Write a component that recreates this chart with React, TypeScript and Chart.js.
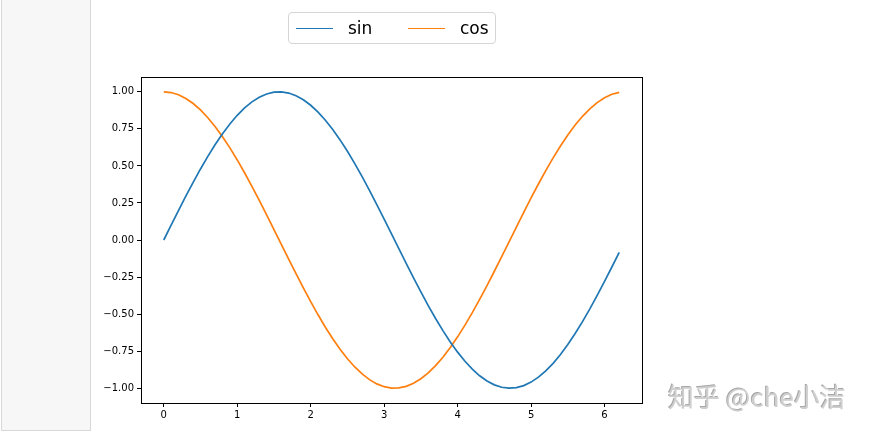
import React, { useEffect, useRef } from "react";
import { Chart, registerables } from "chart.js";

Chart.register(...registerables);

const xValues = [
  0.0, 0.1, 0.2, 0.3, 0.4, 0.5, 0.6, 0.7, 0.8, 0.9,
  1.0, 1.1, 1.2, 1.3, 1.4, 1.5, 1.6, 1.7, 1.8, 1.9,
  2.0, 2.1, 2.2, 2.3, 2.4, 2.5, 2.6, 2.7, 2.8, 2.9,
  3.0, 3.1, 3.2, 3.3, 3.4, 3.5, 3.6, 3.7, 3.8, 3.9,
  4.0, 4.1, 4.2, 4.3, 4.4, 4.5, 4.6, 4.7, 4.8, 4.9,
  5.0, 5.1, 5.2, 5.3, 5.4, 5.5, 5.6, 5.7, 5.8, 5.9,
  6.0, 6.1, 6.2,
];

const sinValues = [
  0.0, 0.0998, 0.1987, 0.2955, 0.3894, 0.4794, 0.5646, 0.6442, 0.7174, 0.7833,
  0.8415, 0.8912, 0.932, 0.9636, 0.9854, 0.9975, 0.9996, 0.9917, 0.9738, 0.9463,
  0.9093, 0.8632, 0.8085, 0.7457, 0.6755, 0.5985, 0.5155, 0.4274, 0.335, 0.2392,
  0.1411, 0.0416, -0.0584, -0.1577, -0.2555, -0.3508, -0.4425, -0.5298, -0.6119, -0.6878,
  -0.7568, -0.8183, -0.8716, -0.9162, -0.9516, -0.9775, -0.9937, -0.9999, -0.9962, -0.9825,
  -0.9589, -0.9258, -0.8835, -0.8323, -0.7728, -0.7055, -0.6313, -0.5507, -0.4646, -0.3739,
  -0.2794, -0.1822, -0.0831,
];

const cosValues = [
  1.0, 0.995, 0.9801, 0.9553, 0.9211, 0.8776, 0.8253, 0.7648, 0.6967, 0.6216,
  0.5403, 0.4536, 0.3624, 0.2675, 0.17, 0.0707, -0.0292, -0.1288, -0.2272, -0.3233,
  -0.4161, -0.5048, -0.5885, -0.6663, -0.7374, -0.8011, -0.8569, -0.9041, -0.9422, -0.971,
  -0.99, -0.9991, -0.9983, -0.9875, -0.9668, -0.9365, -0.8968, -0.8481, -0.791, -0.7259,
  -0.6536, -0.5748, -0.4903, -0.4008, -0.3073, -0.2108, -0.1122, -0.0124, 0.0875, 0.1865,
  0.2837, 0.378, 0.4685, 0.5544, 0.6347, 0.7087, 0.7756, 0.8347, 0.8855, 0.9275,
  0.9602, 0.9833, 0.9965,
];

const xTicks = [0, 1, 2, 3, 4, 5, 6];
const yTicks = [-1.0, -0.75, -0.5, -0.25, 0.0, 0.25, 0.5, 0.75, 1.0];
const seriesNames = ["sin", "cos"];
const seriesColors = ["#1f77b4", "#ff7f0e"];

const FONT = "'DejaVu Sans', sans-serif";

const framePlugin = {
  id: "frame",
  afterDraw(chart: any) {
    const { ctx, chartArea } = chart;
    ctx.save();
    ctx.strokeStyle = "#000";
    ctx.lineWidth = 1;
    ctx.strokeRect(
      Math.round(chartArea.left) + 0.5,
      Math.round(chartArea.top) + 0.5,
      Math.round(chartArea.right - chartArea.left),
      Math.round(chartArea.bottom - chartArea.top)
    );
    ctx.restore();
  },
};

export default function App() {
  const ref = useRef<HTMLCanvasElement | null>(null);

  useEffect(() => {
    if (!ref.current) return;
    const mk = (vals: number[]) => xValues.map((x, i) => ({ x, y: vals[i] }));
    const chart = new Chart(ref.current, {
      type: "scatter",
      data: {
        datasets: [
          {
            label: seriesNames[0],
            data: mk(sinValues),
            showLine: true,
            borderColor: seriesColors[0],
            backgroundColor: seriesColors[0],
            borderWidth: 1.7,
            pointRadius: 0,
            tension: 0,
          },
          {
            label: seriesNames[1],
            data: mk(cosValues),
            showLine: true,
            borderColor: seriesColors[1],
            backgroundColor: seriesColors[1],
            borderWidth: 1.7,
            pointRadius: 0,
            tension: 0,
          },
        ],
      },
      options: {
        animation: false,
        responsive: false,
        maintainAspectRatio: false,
        layout: { padding: { left: 0, right: 227, top: 77, bottom: 0 } },
        plugins: {
          legend: { display: false },
          tooltip: { enabled: false },
        },
        scales: {
          x: {
            type: "linear",
            min: -0.31,
            max: 6.51,
            afterBuildTicks: (axis: any) => {
              axis.ticks = xTicks.map((v) => ({ value: v }));
            },
            afterFit: (axis: any) => {
              axis.height = 29;
            },
            grid: {
              drawOnChartArea: false,
              drawTicks: true,
              tickLength: 4,
              tickColor: "#000",
            },
            border: { display: true, color: "#000" },
            ticks: {
              color: "#000",
              font: { family: FONT, size: 10 },
              padding: 2,
              maxRotation: 0,
              callback: (v: any) => String(v),
            },
          },
          y: {
            type: "linear",
            min: -1.1,
            max: 1.1,
            afterBuildTicks: (axis: any) => {
              axis.ticks = yTicks.map((v) => ({ value: v }));
            },
            afterFit: (axis: any) => {
              axis.width = 141;
            },
            grid: {
              drawOnChartArea: false,
              drawTicks: true,
              tickLength: 4,
              tickColor: "#000",
            },
            border: { display: true, color: "#000" },
            ticks: {
              color: "#000",
              font: { family: FONT, size: 10 },
              padding: 3,
              callback: (v: any) => {
                const n = Number(v);
                const s = Math.abs(n).toFixed(2);
                return n < 0 ? "\u2212" + s : s;
              },
            },
          },
        },
      },
      plugins: [framePlugin],
    } as any);
    return () => chart.destroy();
  }, []);

  return (
    <div
      style={{
        position: "absolute",
        left: 0,
        top: 0,
        width: 869,
        height: 432,
        background: "#fff",
        overflow: "hidden",
      }}
    >
      <div
        style={{
          position: "absolute",
          left: 1,
          top: -2,
          width: 90,
          height: 433,
          background: "#f7f7f7",
          border: "1px solid #d8d8d8",
          boxSizing: "border-box",
        }}
      />
      <canvas
        ref={ref}
        width={869}
        height={432}
        style={{ position: "absolute", left: 0, top: 0, width: 869, height: 432 }}
      />
      <div
        style={{
          position: "absolute",
          left: 288,
          top: 12,
          width: 208,
          height: 32,
          boxSizing: "border-box",
          border: "1px solid #d6d6d6",
          borderRadius: 4,
          background: "#fff",
          fontFamily: FONT,
          fontSize: 17,
          color: "#000",
        }}
      >
        {seriesNames.map((name, i) => (
          <div
            key={name}
            style={{
              position: "absolute",
              left: i === 0 ? 7 : 119,
              top: 0,
              height: 30,
              display: "flex",
              alignItems: "center",
            }}
          >
            <span
              style={{
                display: "inline-block",
                width: 37,
                height: 0,
                borderTop: `1.5px solid ${seriesColors[i]}`,
                marginRight: 15,
              }}
            />
            <span style={{ lineHeight: "30px" }}>{name}</span>
          </div>
        ))}
      </div>
      <div
        style={{
          position: "absolute",
          left: 668,
          top: 381,
          fontFamily: "'Noto Sans CJK SC', sans-serif",
          fontSize: 26,
          color: "#cfcfcf",
          textShadow: "1px 1px 0 #ffffff, -1px -1px 0 #a8a8a8",
          whiteSpace: "nowrap",
          lineHeight: "30px",
        }}
      >
        知乎 @che小洁
      </div>
    </div>
  );
}
